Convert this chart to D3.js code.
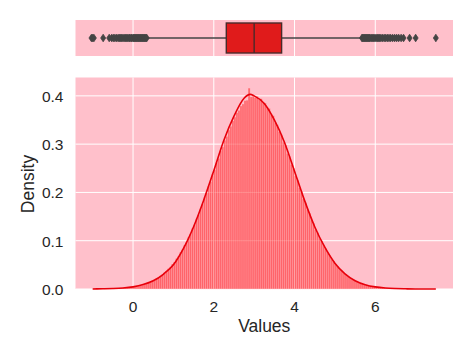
<html lang="en">
<head>
<meta charset="utf-8">
<script src="https://d3js.org/d3.v7.min.js"></script>
<style>
  body { margin: 0; background: white; }
  text { font-family: "Liberation Sans", Arial, sans-serif; fill: #262626; }
</style>
</head>
<body>
<div id="chart"></div>
<script>
// ---- data ----
const binStart = -1.0;
const binWidth = 0.05;
// density of each histogram bin, left to right
const histDensity = [
  0.0002, 0.0000, 0.0002, 0.0000, 0.0004, 0.0002, 0.0004, 0.0006, 0.0008, 0.0008,
  0.0010, 0.0012, 0.0012, 0.0018, 0.0020, 0.0022, 0.0024, 0.0032, 0.0034, 0.0042,
  0.0046, 0.0058, 0.0062, 0.0076, 0.0082, 0.0100, 0.0108, 0.0130, 0.0142, 0.0168,
  0.0184, 0.0214, 0.0232, 0.0272, 0.0296, 0.0340, 0.0370, 0.0422, 0.0458, 0.0518,
  0.0560, 0.0632, 0.0680, 0.0762, 0.0818, 0.0910, 0.0972, 0.1076, 0.1142, 0.1262,
  0.1330, 0.1460, 0.1535, 0.1672, 0.1758, 0.1902, 0.1985, 0.2140, 0.2220, 0.2385,
  0.2465, 0.2620, 0.2705, 0.2860, 0.2940, 0.3080, 0.3160, 0.3290, 0.3370, 0.3480,
  0.3560, 0.3650, 0.3700, 0.3790, 0.3830, 0.3900, 0.3910, 0.4160, 0.3980, 0.3990,
  0.3960, 0.3990, 0.3930, 0.3940, 0.3860, 0.3850, 0.3770, 0.3740, 0.3620, 0.3590,
  0.3450, 0.3400, 0.3260, 0.3200, 0.3040, 0.2980, 0.2810, 0.2750, 0.2580, 0.2500,
  0.2340, 0.2260, 0.2100, 0.2020, 0.1870, 0.1790, 0.1640, 0.1570, 0.1430, 0.1360,
  0.1230, 0.1170, 0.1050, 0.0995, 0.0890, 0.0838, 0.0745, 0.0698, 0.0618, 0.0575,
  0.0508, 0.0470, 0.0412, 0.0380, 0.0332, 0.0304, 0.0264, 0.0241, 0.0208, 0.0190,
  0.0163, 0.0147, 0.0125, 0.0113, 0.0096, 0.0086, 0.0073, 0.0065, 0.0054, 0.0049,
  0.0040, 0.0036, 0.0029, 0.0027, 0.0021, 0.0019, 0.0016, 0.0013, 0.0011, 0.0010,
  0.0008, 0.0007, 0.0006, 0.0005, 0.0004, 0.0003, 0.0002, 0.0002, 0.0002, 0.0000,
  0.0002, 0.0000, 0.0000, 0.0000, 0.0000, 0.0000, 0.0000, 0.0000, 0.0000, 0.0002
];
// kde curve
const kdeX = [-1.0, -0.75, -0.5, -0.25, 0, 0.25, 0.5, 0.75, 1.0, 1.25, 1.5, 1.75, 2.0, 2.25, 2.5, 2.75,
  2.9, 3.0, 3.25, 3.5, 3.75, 4.0, 4.25, 4.5, 4.75, 5.0, 5.25, 5.5, 5.75, 6.0, 6.25, 6.5, 6.75, 7.0, 7.25, 7.5];
const kdeY = [0.0001, 0.0004, 0.0009, 0.0020, 0.0044, 0.0091, 0.0170, 0.0305, 0.0500, 0.0840, 0.1290, 0.1840,
  0.2450, 0.3080, 0.3580, 0.3950, 0.4030, 0.4000, 0.3840, 0.3500, 0.3040, 0.2440, 0.1830, 0.1290, 0.0865,
  0.0535, 0.0315, 0.0172, 0.0090, 0.0044, 0.0020, 0.0009, 0.0004, 0.0001, 0.0001, 0.0000];
// box plot summary
const boxStats = { whiskerLo: 0.35, q1: 2.31, median: 3.0, q3: 3.68, whiskerHi: 5.66 };
const outliers = [-1.03, -1.0, -0.97, -0.74, -0.59, -0.53, -0.49, -0.45, -0.41, -0.37, -0.34, -0.31, -0.28,
  -0.25, -0.22, -0.19, -0.16, -0.13, -0.10, -0.08, -0.05, -0.03, 0.0, 0.02, 0.04, 0.06, 0.08, 0.10, 0.12,
  0.14, 0.16, 0.18, 0.20, 0.22, 0.24, 0.26, 0.28, 0.30, 0.32, 0.34,
  5.67, 5.69, 5.71, 5.73, 5.75, 5.77, 5.79, 5.81, 5.83, 5.85, 5.87, 5.90, 5.93, 5.96, 5.99, 6.02, 6.05,
  6.08, 6.11, 6.14, 6.18, 6.22, 6.26, 6.30, 6.34, 6.38, 6.43, 6.48, 6.53, 6.58, 6.64, 6.70, 6.85, 7.0, 7.5];
const xTicks = [0, 2, 4, 6];
const yTicks = [0.0, 0.1, 0.2, 0.3, 0.4];

// ---- layout ----
const W = 474, H = 355;
const left = 75.5, right = 453;
const boxTop = 20, boxBot = 56;
const mainTop = 77.5, mainBot = 289;

const svg = d3.select("#chart").append("svg")
  .attr("width", W).attr("height", H);

const x = d3.scaleLinear().domain([-1.425, 7.925]).range([left, right]);
const y = d3.scaleLinear().domain([0, 0.438]).range([mainBot, mainTop]);

// ---- box plot panel ----
svg.append("rect")
  .attr("x", left).attr("y", boxTop)
  .attr("width", right - left).attr("height", boxBot - boxTop)
  .attr("fill", "pink");
svg.append("g").selectAll("line").data(xTicks).enter().append("line")
  .attr("x1", d => x(d)).attr("x2", d => x(d))
  .attr("y1", boxTop).attr("y2", boxBot)
  .attr("stroke", "white").attr("stroke-width", 1);

const cy = (boxTop + boxBot) / 2;
const halfBox = 15;
const gray = "#444444";
// whiskers
svg.append("line")
  .attr("x1", x(boxStats.whiskerLo)).attr("x2", x(boxStats.q1))
  .attr("y1", cy).attr("y2", cy).attr("stroke", gray).attr("stroke-width", 1.4);
svg.append("line")
  .attr("x1", x(boxStats.q3)).attr("x2", x(boxStats.whiskerHi))
  .attr("y1", cy).attr("y2", cy).attr("stroke", gray).attr("stroke-width", 1.4);
// box
svg.append("rect")
  .attr("x", x(boxStats.q1)).attr("y", cy - halfBox)
  .attr("width", x(boxStats.q3) - x(boxStats.q1)).attr("height", halfBox * 2)
  .attr("fill", "#e01b1b").attr("stroke", "#4a2a2a").attr("stroke-width", 1.4);
svg.append("line")
  .attr("x1", x(boxStats.median)).attr("x2", x(boxStats.median))
  .attr("y1", cy - halfBox).attr("y2", cy + halfBox)
  .attr("stroke", "#4a2a2a").attr("stroke-width", 1.4);
// outliers (thin diamonds)
svg.append("g").selectAll("path").data(outliers).enter().append("path")
  .attr("d", "M0,-3.8L2.5,0L0,3.8L-2.5,0Z")
  .attr("transform", d => "translate(" + x(d) + "," + cy + ")")
  .attr("fill", gray).attr("stroke", gray).attr("stroke-width", 0.8);

// ---- histogram panel ----
svg.append("rect")
  .attr("x", left).attr("y", mainTop)
  .attr("width", right - left).attr("height", mainBot - mainTop)
  .attr("fill", "pink");
svg.append("g").selectAll("line").data(xTicks).enter().append("line")
  .attr("x1", d => x(d)).attr("x2", d => x(d))
  .attr("y1", mainTop).attr("y2", mainBot)
  .attr("stroke", "white").attr("stroke-width", 1);
svg.append("g").selectAll("line").data(yTicks).enter().append("line")
  .attr("x1", left).attr("x2", right)
  .attr("y1", d => y(d)).attr("y2", d => y(d))
  .attr("stroke", "white").attr("stroke-width", 1);

const bins = histDensity.map((d, i) => ({ x0: binStart + i * binWidth, x1: binStart + (i + 1) * binWidth, v: d }));
svg.append("g").selectAll("rect").data(bins).enter().append("rect")
  .attr("x", d => x(d.x0)).attr("width", d => x(d.x1) - x(d.x0))
  .attr("y", d => y(d.v)).attr("height", d => y(0) - y(d.v))
  .attr("fill", "red").attr("fill-opacity", 0.48)
  .attr("stroke", "#ffc8cf").attr("stroke-opacity", 0.5).attr("stroke-width", 0.5);

const kde = kdeX.map((d, i) => ({ x: d, y: kdeY[i] }));
svg.append("path")
  .datum(kde)
  .attr("fill", "none")
  .attr("stroke", "#e8000b")
  .attr("stroke-width", 1.6)
  .attr("d", d3.line().curve(d3.curveMonotoneX)
    .x(d => x(d.x))
    .y(d => y(d.y)));

// ---- axes text ----
svg.append("g").selectAll("text").data(xTicks).enter().append("text")
  .attr("x", d => x(d)).attr("y", 311.5)
  .attr("text-anchor", "middle")
  .style("font-size", "15.5px")
  .text(d => d);
svg.append("g").selectAll("text").data(yTicks).enter().append("text")
  .attr("x", 63.5).attr("y", d => y(d) + 6)
  .attr("text-anchor", "end")
  .style("font-size", "15.5px")
  .text(d => d.toFixed(1));

svg.append("text")
  .attr("x", (left + right) / 2).attr("y", 331.5)
  .attr("text-anchor", "middle")
  .style("font-size", "17.5px")
  .text("Values");
svg.append("text")
  .attr("transform", "translate(34,184) rotate(-90)")
  .attr("text-anchor", "middle")
  .style("font-size", "17.5px")
  .text("Density");
</script>
</body>
</html>
